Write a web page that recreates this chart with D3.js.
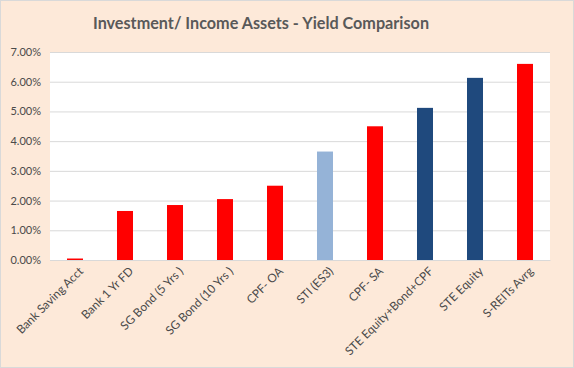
<!DOCTYPE html>
<html>
<head>
<meta charset="utf-8">
<script src="https://cdn.jsdelivr.net/npm/d3@7"></script>
<style>
  body { margin: 0; background: #fff; }
  svg { display: block; font-family: Lato, "Open Sans", sans-serif; }
</style>
</head>
<body>
<svg width="574" height="368"></svg>
<script>
var categories = ["Bank Saving Acct", "Bank 1 Yr FD", "SG Bond (5 Yrs )", "SG Bond (10 Yrs )", "CPF- OA",
    "STI (ES3)", "CPF- SA", "STE Equity+Bond+CPF", "STE Equity", "S-REITs Avrg"];
var yields = [0.0005, 0.0165, 0.0185, 0.0205, 0.025, 0.0365, 0.045, 0.0512, 0.0613, 0.066];
var barColors = ["#ff0000", "#ff0000", "#ff0000", "#ff0000", "#ff0000",
    "#95b3d7", "#ff0000", "#1f497d", "#1f497d", "#ff0000"];
var yTicks = [0, 0.01, 0.02, 0.03, 0.04, 0.05, 0.06, 0.07];

var svg = d3.select("svg"),
    width = +svg.attr("width"),
    height = +svg.attr("height");

var margin = {top: 52, right: 24, bottom: 108, left: 50};

svg.append("rect")
    .attr("x", 0.5).attr("y", 0.5)
    .attr("width", width - 1).attr("height", height - 1)
    .attr("fill", "#fde9d9")
    .attr("stroke", "#d9d9d9");

var x = d3.scaleBand()
    .domain(categories)
    .range([margin.left, width - margin.right])
    .paddingInner(0.68)
    .paddingOuter(0.34);

var y = d3.scaleLinear()
    .domain([0, 0.07])
    .range([height - margin.bottom, margin.top]);

svg.append("rect")
    .attr("x", margin.left).attr("y", margin.top)
    .attr("width", width - margin.left - margin.right)
    .attr("height", height - margin.top - margin.bottom)
    .attr("fill", "#fff");

svg.append("text")
    .attr("x", 261).attr("y", 29)
    .attr("text-anchor", "middle")
    .attr("font-size", 16.2).attr("font-weight", "bold")
    .attr("fill", "#595959")
    .text("Investment/ Income Assets - Yield Comparison");

var yAxis = svg.append("g")
    .attr("transform", "translate(" + margin.left + ",0)")
    .call(d3.axisLeft(y).tickValues(yTicks).tickFormat(d3.format(".2%"))
        .tickSize(-(width - margin.left - margin.right)).tickPadding(9));
yAxis.select(".domain").remove();
yAxis.selectAll("line").attr("stroke", "#d9d9d9").attr("stroke-width", 1);
yAxis.selectAll("text").attr("fill", "#4a4a4a").attr("font-size", 11)
    .attr("font-family", "Lato, sans-serif");

svg.append("g")
    .selectAll("rect")
    .data(yields)
    .enter().append("rect")
    .attr("x", function(d, i) { return x(categories[i]); })
    .attr("y", function(d) { return y(d); })
    .attr("width", x.bandwidth())
    .attr("height", function(d) { return y(0) - y(d); })
    .attr("fill", function(d, i) { return barColors[i]; });

var xAxis = svg.append("g")
    .attr("transform", "translate(0," + y(0) + ")")
    .call(d3.axisBottom(x).tickSize(0).tickPadding(0));
xAxis.select(".domain").attr("stroke", "#d9d9d9");
xAxis.selectAll("text")
    .attr("fill", "#4a4a4a")
    .attr("font-size", 11.8)
    .attr("font-family", "Lato, sans-serif")
    .attr("text-anchor", "end")
    .attr("dy", 0)
    .attr("transform", "translate(9,12) rotate(-45)");
</script>
</body>
</html>
